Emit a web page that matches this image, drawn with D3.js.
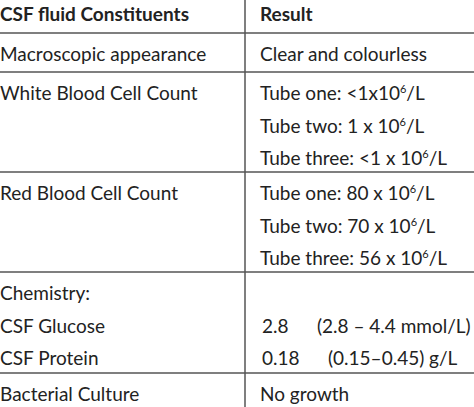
<!DOCTYPE html><html><head><meta charset="utf-8"><script src="https://cdn.jsdelivr.net/npm/d3@7"></script>
<style>body{margin:0;background:#fff}text{font-family:Lato,"Noto Sans",sans-serif;font-size:19px;fill:#222}</style></head><body>
<script>
const headers=["CSF fluid Constituents","Result"];
const leftCol=[["Macroscopic appearance"],["White Blood Cell Count"],["Red Blood Cell Count"],["Chemistry:","CSF Glucose","CSF Protein"],["Bacterial Culture"]];
const rightCol=[["Clear and colourless"],["Tube one: <1x10|6|/L","Tube two: 1 x 10|6|/L","Tube three: <1 x 10|6|/L"],["Tube one: 80 x 10|6|/L","Tube two: 70 x 10|6|/L","Tube three: 56 x 10|6|/L"],["","2.8||(2.8 – 4.4 mmol/L)","0.18||(0.15–0.45) g/L"],["No growth"]];
const W=474,H=407;
const svg=d3.select("body").append("svg").attr("width",W).attr("height",H);
const lineY=[33,72,172,272,373];
const rowStart=[33,72,172,272,373];
const x=d3.scaleOrdinal().domain([0,1]).range([0,260]);
svg.append("line").attr("x1",245).attr("x2",245).attr("y1",0).attr("y2",H).attr("stroke","#555").attr("stroke-width",1.5);
lineY.forEach(y=>svg.append("line").attr("x1",0).attr("x2",W).attr("y1",y).attr("y2",y).attr("stroke","#555").attr("stroke-width",1.5));
headers.forEach((h,i)=>svg.append("text").attr("x",x(i)).attr("y",21).style("font-weight","bold").text(h));
const lh=32.5;
leftCol.forEach((ls,r)=>ls.forEach((t,k)=>svg.append("text").attr("x",x(0)).attr("y",rowStart[r]+28+k*lh).text(t)));
rightCol.forEach((ls,r)=>ls.forEach((t,k)=>{
  const y=rowStart[r]+28+k*lh;
  const p=t.split("|");
  if(p.length===3&&p[1]===""){
    svg.append("text").attr("x",262).attr("y",y).text(p[0]);
    svg.append("text").attr("x",p[0].length>3?328:317).attr("y",y).text(p[2]);
  } else {
    const tx=svg.append("text").attr("x",x(1)).attr("y",y).text(p[0]);
    if(p.length>1){tx.append("tspan").attr("dy",-7).style("font-size","11px").text(p[1]);tx.append("tspan").attr("dy",7).text(p[2]);}
  }
}));
</script></body></html>
